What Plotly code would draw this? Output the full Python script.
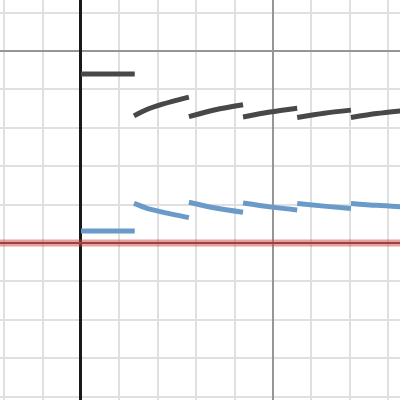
import plotly.graph_objects as go

# values (one grid square = 1 unit), None breaks the segments
dark_x = [0.0, 1.40, None,
          1.38, 1.70, 2.10, 2.81, None,
          2.81, 3.50, 4.22, None,
          4.22, 4.92, 5.63, None,
          5.63, 6.33, 7.03, None,
          7.03, 7.70, 8.42]
dark_y = [4.40, 4.40, None,
          3.31, 3.47, 3.61, 3.80, None,
          3.29, 3.47, 3.60, None,
          3.28, 3.41, 3.51, None,
          3.27, 3.38, 3.46, None,
          3.27, 3.37, 3.45]

blue_x = [0.0, 1.40, None,
          1.38, 1.70, 2.10, 2.81, None,
          2.81, 3.50, 4.22, None,
          4.22, 4.92, 5.63, None,
          5.63, 6.33, 7.03, None,
          7.03, 7.70, 8.42]
blue_y = [0.31, 0.31, None,
          1.03, 0.91, 0.81, 0.66, None,
          1.06, 0.91, 0.80, None,
          1.04, 0.94, 0.86, None,
          1.03, 0.96, 0.90, None,
          1.03, 0.98, 0.94]

red_level = 0

fig = go.Figure()

fig.add_trace(go.Scatter(
    x=dark_x, y=dark_y, mode='lines',
    line=dict(color='rgb(72,72,72)', width=5, shape='spline', smoothing=0.8),
    connectgaps=False, hoverinfo='skip'
))
fig.add_trace(go.Scatter(
    x=blue_x, y=blue_y, mode='lines',
    line=dict(color='rgb(106,155,200)', width=5, shape='spline', smoothing=0.8),
    connectgaps=False, hoverinfo='skip'
))

# red horizontal line on top of the x axis
fig.add_hline(y=red_level, line=dict(color='rgba(199,68,64,0.5)', width=7), layer='above')

axis_style = dict(
    showticklabels=False, ticks='', showline=False,
    dtick=5, tick0=0, gridcolor='rgb(150,150,150)', gridwidth=1.5,
    minor=dict(dtick=1, tick0=0, gridcolor='rgb(224,224,224)', gridwidth=1.5, showgrid=True),
    zeroline=True, zerolinecolor='rgb(25,25,25)', zerolinewidth=2.5,
)

fig.update_xaxes(range=[-2.109, 8.307], **axis_style)
fig.update_yaxes(range=[-4.089, 6.328], **axis_style)
fig.update_yaxes(zerolinecolor='rgb(120,60,60)', zerolinewidth=2)

fig.update_layout(
    width=400, height=400,
    margin=dict(l=0, r=0, t=0, b=0),
    plot_bgcolor='white', paper_bgcolor='white',
    showlegend=False,
)

fig.write_html("out.html", config={'displayModeBar': False},
               post_script="document.body.style.margin='0';")
